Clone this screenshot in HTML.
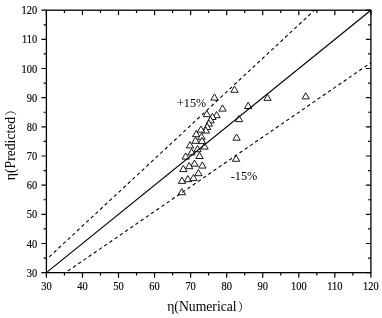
<!DOCTYPE html>
<html><head><meta charset="utf-8"><title>Predicted vs Numerical</title>
<style>html,body{margin:0;padding:0;background:#fff;width:382px;height:318px;overflow:hidden}svg{display:block}</style>
</head><body>
<svg width="382" height="318" viewBox="0 0 382 318" font-family="'Liberation Serif', 'Noto Serif CJK SC', serif" fill="#000">
<rect x="46.4" y="10.2" width="324.5" height="262.45" fill="none" stroke="#000" stroke-width="1.3"/>
<path d="M46.40 272.65v5M46.40 10.2v5M46.4 272.65h-5M370.9 272.65h-5M64.43 272.65v2.8M64.43 10.2v2.8M46.4 258.07h-2.8M370.9 258.07h-2.8M82.46 272.65v5M82.46 10.2v5M46.4 243.49h-5M370.9 243.49h-5M100.48 272.65v2.8M100.48 10.2v2.8M46.4 228.91h-2.8M370.9 228.91h-2.8M118.51 272.65v5M118.51 10.2v5M46.4 214.33h-5M370.9 214.33h-5M136.54 272.65v2.8M136.54 10.2v2.8M46.4 199.75h-2.8M370.9 199.75h-2.8M154.57 272.65v5M154.57 10.2v5M46.4 185.17h-5M370.9 185.17h-5M172.59 272.65v2.8M172.59 10.2v2.8M46.4 170.59h-2.8M370.9 170.59h-2.8M190.62 272.65v5M190.62 10.2v5M46.4 156.01h-5M370.9 156.01h-5M208.65 272.65v2.8M208.65 10.2v2.8M46.4 141.42h-2.8M370.9 141.42h-2.8M226.68 272.65v5M226.68 10.2v5M46.4 126.84h-5M370.9 126.84h-5M244.71 272.65v2.8M244.71 10.2v2.8M46.4 112.26h-2.8M370.9 112.26h-2.8M262.73 272.65v5M262.73 10.2v5M46.4 97.68h-5M370.9 97.68h-5M280.76 272.65v2.8M280.76 10.2v2.8M46.4 83.10h-2.8M370.9 83.10h-2.8M298.79 272.65v5M298.79 10.2v5M46.4 68.52h-5M370.9 68.52h-5M316.82 272.65v2.8M316.82 10.2v2.8M46.4 53.94h-2.8M370.9 53.94h-2.8M334.84 272.65v5M334.84 10.2v5M46.4 39.36h-5M370.9 39.36h-5M352.87 272.65v2.8M352.87 10.2v2.8M46.4 24.78h-2.8M370.9 24.78h-2.8M370.90 272.65v5M370.90 10.2v5M46.4 10.20h-5M370.9 10.20h-5" stroke="#000" stroke-width="1.2" fill="none"/>
<g fill="#fff" stroke="#000" stroke-width="0.9" stroke-linejoin="miter"><path d="M305.7 92.7L309.3 98.9H302.1Z"/><path d="M267.5 94.2L271.1 100.4H263.9Z"/><path d="M234.5 86.1L238.2 92.3H230.8Z"/><path d="M214.5 93.9L218.2 100.1H210.8Z"/><path d="M248.2 102.3L251.8 108.5H244.5Z"/><path d="M222.5 104.9L226.2 111.1H218.8Z"/><path d="M239.0 115.4L242.7 121.6H235.3Z"/><path d="M206.8 110.5L210.5 116.7H203.2Z"/><path d="M216.6 111.5L220.2 117.7H212.9Z"/><path d="M212.4 113.3L216.1 119.5H208.8Z"/><path d="M210.5 116.6L214.2 122.8H206.8Z"/><path d="M208.8 119.9L212.5 126.1H205.2Z"/><path d="M207.2 123.3L210.8 129.5H203.5Z"/><path d="M205.8 126.9L209.5 133.1H202.2Z"/><path d="M200.9 126.0L204.6 132.2H197.2Z"/><path d="M196.2 130.5L199.8 136.7H192.5Z"/><path d="M201.5 133.1L205.2 139.3H197.8Z"/><path d="M195.5 137.1L199.2 143.3H191.8Z"/><path d="M202.0 137.4L205.7 143.6H198.3Z"/><path d="M190.0 141.7L193.7 147.9H186.3Z"/><path d="M204.6 142.9L208.2 149.1H200.9Z"/><path d="M197.5 145.5L201.2 151.7H193.8Z"/><path d="M191.6 148.7L195.2 154.9H187.9Z"/><path d="M185.7 152.9L189.3 159.1H182.0Z"/><path d="M199.5 152.3L203.2 158.5H195.8Z"/><path d="M194.5 160.0L198.2 166.2H190.8Z"/><path d="M189.2 162.5L192.8 168.7H185.5Z"/><path d="M202.3 161.9L206.0 168.1H198.7Z"/><path d="M183.3 165.4L187.0 171.6H179.7Z"/><path d="M198.4 169.5L202.1 175.7H194.8Z"/><path d="M182.0 177.2L185.7 183.4H178.3Z"/><path d="M187.9 175.5L191.6 181.7H184.2Z"/><path d="M193.5 174.4L197.2 180.6H189.8Z"/><path d="M181.8 188.5L185.5 194.7H178.2Z"/><path d="M236.6 134.0L240.2 140.2H232.9Z"/><path d="M236.1 155.1L239.8 161.3H232.4Z"/></g>
<line x1="46.4" y1="272.65" x2="370.9" y2="10.199999999999989" stroke="#000" stroke-width="1.2"/>
<line x1="46.4" y1="259.53" x2="314.47" y2="10.199999999999989" stroke="#000" stroke-width="1.1" stroke-dasharray="3.4 2.916" stroke-dashoffset="2.416"/>
<line x1="65.49" y1="272.65" x2="370.9" y2="62.69" stroke="#000" stroke-width="1.1" stroke-dasharray="3.4 2.916" stroke-dashoffset="3.516"/>
<g font-size="11" stroke="#000" stroke-width="0.15"><text transform="translate(46.40 290.0) scale(0.95 1.15)" text-anchor="middle">30</text><text transform="translate(37.2 276.75) scale(0.95 1.15)" text-anchor="end">30</text><text transform="translate(82.46 290.0) scale(0.95 1.15)" text-anchor="middle">40</text><text transform="translate(37.2 247.59) scale(0.95 1.15)" text-anchor="end">40</text><text transform="translate(118.51 290.0) scale(0.95 1.15)" text-anchor="middle">50</text><text transform="translate(37.2 218.43) scale(0.95 1.15)" text-anchor="end">50</text><text transform="translate(154.57 290.0) scale(0.95 1.15)" text-anchor="middle">60</text><text transform="translate(37.2 189.27) scale(0.95 1.15)" text-anchor="end">60</text><text transform="translate(190.62 290.0) scale(0.95 1.15)" text-anchor="middle">70</text><text transform="translate(37.2 160.11) scale(0.95 1.15)" text-anchor="end">70</text><text transform="translate(226.68 290.0) scale(0.95 1.15)" text-anchor="middle">80</text><text transform="translate(37.2 130.94) scale(0.95 1.15)" text-anchor="end">80</text><text transform="translate(262.73 290.0) scale(0.95 1.15)" text-anchor="middle">90</text><text transform="translate(37.2 101.78) scale(0.95 1.15)" text-anchor="end">90</text><text transform="translate(298.79 290.0) scale(0.95 1.15)" text-anchor="middle">100</text><text transform="translate(37.2 72.62) scale(0.95 1.15)" text-anchor="end">100</text><text transform="translate(334.84 290.0) scale(0.95 1.15)" text-anchor="middle">110</text><text transform="translate(37.2 43.46) scale(0.95 1.15)" text-anchor="end">110</text><text transform="translate(370.90 290.0) scale(0.95 1.15)" text-anchor="middle">120</text><text transform="translate(37.2 14.30) scale(0.95 1.15)" text-anchor="end">120</text></g>
<text x="177" y="106.9" font-size="12.2">+15%</text>
<text x="230.7" y="180" font-size="12.3">-15%</text>
<text x="167.2" y="311.3" font-size="13.7">η(Numerical<tspan dx="1.0" dy="0.7" font-size="12" font-family="Noto Serif CJK SC">）</tspan></text>
<text transform="translate(15.3 180.2) rotate(-90)" font-size="13.7">η(Predicted<tspan dx="1.0" dy="0.7" font-size="12" font-family="Noto Serif CJK SC">）</tspan></text>
</svg>
</body></html>
